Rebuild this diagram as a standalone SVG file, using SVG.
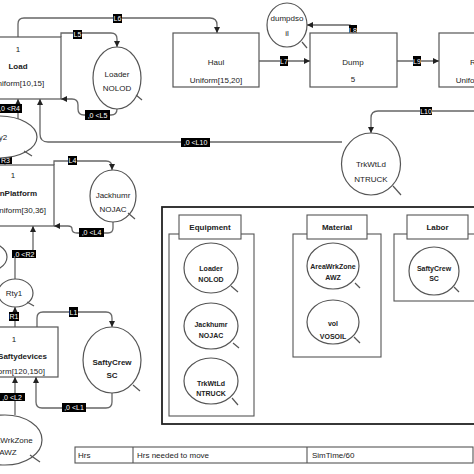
<svg xmlns="http://www.w3.org/2000/svg" width="474" height="474" viewBox="0 0 474 474">
<style>
text{font-family:"Liberation Sans",Arial,sans-serif;font-size:8px;fill:#222;text-anchor:middle}
.b{font-weight:bold}
.s7{font-size:7px}
.box{fill:#fff;stroke:#555;stroke-width:1.2}
.res{fill:#fff;stroke:#555;stroke-width:1.2}
.tail{stroke:#555;stroke-width:1.2}
.conn{fill:none;stroke:#666;stroke-width:1.3}
.lbl rect{fill:#000}
.lbl text{fill:#fff;font-size:7px}
.frame{fill:none;stroke:#222;stroke-width:1.8}
.panel{fill:#fff;stroke:#555;stroke-width:1.1}
</style>
<defs>
<marker id="ar" viewBox="0 0 6 6" refX="6" refY="3" markerWidth="6" markerHeight="6" markerUnits="userSpaceOnUse" orient="auto"><path d="M0,0L6,3L0,6z" fill="#222"/></marker>
</defs>
<rect width="474" height="474" fill="#fff"/>

<g id="connectors">
<path class="conn" d="M18,37V24Q18,18 24,18H210Q217,18 217,25V33" marker-end="url(#ar)"/>
<path class="conn" d="M61,37V33H111Q117,33 117,39V47" marker-end="url(#ar)"/>
<path class="conn" d="M117,109Q117,115 111,115H84Q78,115 78,109V105Q78,99 72,99H61" marker-end="url(#ar)"/>
<path class="conn" d="M259,61H310" marker-end="url(#ar)"/>
<path class="conn" d="M353,33V30Q353,25 348,25H307" marker-end="url(#ar)"/>
<path class="conn" d="M397,61H439" marker-end="url(#ar)"/>
<path class="conn" d="M480,111H378Q371,111 371,118V133" marker-end="url(#ar)"/>
<path class="conn" d="M342,142H48Q40,142 40,134V99" marker-end="url(#ar)"/>
<path class="conn" d="M18,119V99" marker-end="url(#ar)"/>
<path class="conn" d="M5,165V158"/>
<path class="conn" d="M54,165V161H106Q112,161 112,167V170" marker-end="url(#ar)"/>
<path class="conn" d="M113,222V228Q113,233 108,233H77Q72,233 72,229Q72,226 68,226H54" marker-end="url(#ar)"/>
<path class="conn" d="M15,279V259Q15,254 20,254H28Q33,254 33,249V226" marker-end="url(#ar)"/>
<path class="conn" d="M15,327V307" marker-end="url(#ar)"/>
<path class="conn" d="M37,327V318Q37,312 43,312H106Q112,312 112,318V327" marker-end="url(#ar)"/>
<path class="conn" d="M112,393V402Q112,408 106,408H42Q36,408 36,402V377" marker-end="url(#ar)"/>
<path class="conn" d="M15,415V377" marker-end="url(#ar)"/>
<g class="lbl"><rect x="113" y="14" width="9" height="9"/><text x="117.5" y="21">L6</text></g>
<g class="lbl"><rect x="73" y="30" width="9" height="9"/><text x="77.5" y="37">L5</text></g>
<g class="lbl"><rect x="85" y="110" width="25" height="10"/><text x="97.5" y="117.5">,0 &lt;L5</text></g>
<g class="lbl"><rect x="280" y="56" width="8" height="10"/><text x="284" y="63.5">L7</text></g>
<g class="lbl"><rect x="349" y="25" width="8" height="10"/><text x="353" y="32.5">L8</text></g>
<g class="lbl"><rect x="413" y="56" width="8" height="10"/><text x="417" y="63.5">L9</text></g>
<g class="lbl"><rect x="420" y="107" width="12" height="8"/><text x="426" y="113.5">L10</text></g>
<g class="lbl"><rect x="181" y="138" width="29" height="9"/><text x="195.5" y="145">,0 &lt;L10</text></g>
<g class="lbl"><rect x="-3" y="104" width="25" height="9"/><text x="9.5" y="111">,0 &lt;R4</text></g>
<g class="lbl"><rect x="-1" y="156" width="13" height="8"/><text x="5.5" y="162.5">R3</text></g>
<g class="lbl"><rect x="68" y="156" width="9" height="9"/><text x="72.5" y="163">L4</text></g>
<g class="lbl"><rect x="79" y="228" width="25" height="9"/><text x="91.5" y="235">,0 &lt;L4</text></g>
<g class="lbl"><rect x="12" y="250" width="24" height="8"/><text x="24" y="256.5">,0 &lt;R2</text></g>
<g class="lbl"><rect x="9" y="312" width="10" height="9"/><text x="14" y="319">R1</text></g>
<g class="lbl"><rect x="69" y="307" width="9" height="10"/><text x="73.5" y="314.5">L1</text></g>
<g class="lbl"><rect x="62" y="403" width="24" height="9"/><text x="74" y="410">,0 &lt;L1</text></g>
<g class="lbl"><rect x="-1" y="393" width="26" height="8"/><text x="12" y="399.5">,0 &lt;L2</text></g>
</g>

<g id="load"><rect class="box" x="-25" y="37" width="86" height="62"/><text x="18" y="52">1</text><text class="b" x="18" y="69">Load</text><text x="18" y="86">Uniform[10,15]</text></g>
<g id="haul"><rect class="box" x="173" y="33" width="86" height="54"/><text x="216" y="65">Haul</text><text x="216" y="83">Uniform[15,20]</text></g>
<g id="dump"><rect class="box" x="310" y="33" width="87" height="54"/><text x="353" y="65">Dump</text><text x="353" y="82">5</text></g>
<g id="return"><rect class="box" x="439" y="33" width="87" height="54"/><text x="482" y="65">Return</text><text x="482" y="83">Uniform[10,15]</text></g>
<g id="dumpdsoil"><ellipse class="res" cx="287" cy="25" rx="20" ry="22"/><line class="tail" x1="302" y1="42" x2="307" y2="48"/><text x="287" y="21">dumpdso</text><text x="287" y="36">il</text></g>
<g id="loader"><ellipse class="res" cx="117" cy="78" rx="24" ry="31"/><line class="tail" x1="136" y1="95" x2="142" y2="100"/><text x="117" y="77">Loader</text><text x="117" y="91">NOLOD</text></g>
<g id="trkwtld"><ellipse class="res" cx="371" cy="164" rx="29.5" ry="31"/><line class="tail" x1="393" y1="186" x2="401" y2="195"/><text x="371" y="167">TrkWtLd</text><text x="371" y="182">NTRUCK</text></g>
<g id="rty2"><ellipse class="res" cx="-1" cy="137" rx="38" ry="21"/><line class="tail" x1="24" y1="151" x2="32" y2="156"/><text x="-1" y="140">Rty2</text></g>
<g id="apronplatform"><rect class="box" x="-30" y="165" width="84" height="61"/><text x="13" y="178">1</text><text class="b" x="37" y="196" style="text-anchor:end">ApronPlatform</text><text x="46" y="213" style="text-anchor:end">Uniform[30,36]</text></g>
<g id="jackhumr"><ellipse class="res" cx="113" cy="196" rx="23" ry="26"/><line class="tail" x1="128" y1="213" x2="135" y2="219"/><text x="113" y="198">Jackhumr</text><text x="113" y="212">NOJAC</text></g>
<g id="resource-left"><ellipse class="res" cx="-22" cy="257" rx="29" ry="17"/></g>
<g id="rty1"><ellipse class="res" cx="15.5" cy="293" rx="17.5" ry="14"/><line class="tail" x1="27" y1="302" x2="34" y2="306"/><text x="14" y="296">Rty1</text></g>
<g id="saftydevices"><rect class="box" x="-30" y="327" width="88" height="50"/><text x="14" y="342">1</text><text class="b" x="47" y="359" style="text-anchor:end">Saftydevices</text><text x="45" y="374" style="text-anchor:end">Uniform[120,150]</text></g>
<g id="saftycrew"><ellipse class="res" cx="112" cy="360" rx="29" ry="33"/><line class="tail" x1="133" y1="385" x2="140" y2="391"/><text class="b" x="112" y="365">SaftyCrew</text><text class="b" x="112" y="378">SC</text></g>
<g id="areawrkzone"><ellipse class="res" cx="5" cy="440" rx="37" ry="25"/><line class="tail" x1="30" y1="455" x2="40" y2="462"/><text x="8" y="443">AreaWrkZone</text><text x="8" y="455">AWZ</text></g>

<g id="legend">
<rect class="frame" x="162" y="207" width="320" height="217"/>
<g id="equipment">
<rect class="panel" x="169" y="234" width="85" height="182"/>
<rect class="panel" x="179" y="215" width="62" height="24"/>
<text class="b" x="210" y="230">Equipment</text>
<ellipse class="res" cx="211" cy="268" rx="27" ry="25"/><line class="tail" x1="231" y1="286" x2="238" y2="292"/><text class="b s7" x="211" y="270.5">Loader</text><text class="b s7" x="211" y="281.5">NOLOD</text>
<ellipse class="res" cx="211" cy="326" rx="27" ry="23"/><line class="tail" x1="233" y1="343" x2="239" y2="348"/><text class="b s7" x="211" y="326.5">Jackhumr</text><text class="b s7" x="211" y="337.5">NOJAC</text>
<ellipse class="res" cx="211" cy="381" rx="27" ry="23"/><line class="tail" x1="232" y1="398" x2="238" y2="405"/><text class="b s7" x="211" y="385.5">TrkWtLd</text><text class="b s7" x="211" y="395.5">NTRUCK</text>
</g>
<g id="material">
<rect class="panel" x="293" y="234" width="88" height="123"/>
<rect class="panel" x="307" y="215" width="60" height="24"/>
<text class="b" x="337" y="230">Material</text>
<ellipse class="res" cx="333" cy="266" rx="26" ry="23"/><line class="tail" x1="355" y1="283" x2="360" y2="288"/><text class="b s7" x="333" y="268.5">AreaWrkZone</text><text class="b s7" x="333" y="279.5">AWZ</text>
<ellipse class="res" cx="333" cy="322" rx="26" ry="22"/><line class="tail" x1="354" y1="337" x2="360" y2="343"/><text class="b s7" x="333" y="325.5">vol</text><text class="b s7" x="333" y="338.5">VOSOIL</text>
</g>
<g id="labor">
<rect class="panel" x="394" y="234" width="86" height="67"/>
<rect class="panel" x="407" y="215" width="61" height="24"/>
<text class="b" x="437.5" y="230">Labor</text>
<ellipse class="res" cx="434" cy="271" rx="25" ry="24"/><line class="tail" x1="454" y1="287" x2="459" y2="292"/><text class="b s7" x="434" y="270.5">SaftyCrew</text><text class="b s7" x="434" y="280.5">SC</text>
</g>
</g>

<g id="table">
<rect x="75" y="447" width="398" height="16" fill="#fff" stroke="#555" stroke-width="1.1"/>
<line x1="133" y1="447" x2="133" y2="463" stroke="#555" stroke-width="1.1"/>
<line x1="307" y1="447" x2="307" y2="463" stroke="#555" stroke-width="1.1"/>
<text x="78" y="458" style="text-anchor:start">Hrs</text>
<text x="137" y="458" style="text-anchor:start">Hrs needed to move</text>
<text x="312" y="458" style="text-anchor:start">SimTime/60</text>
</g>
</svg>
